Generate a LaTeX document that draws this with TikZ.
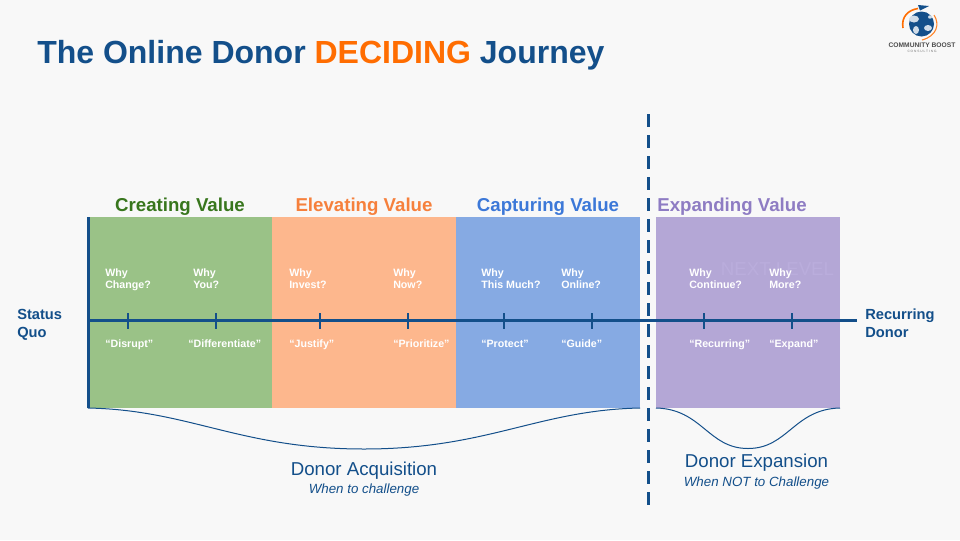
\documentclass[tikz,border=0pt]{standalone}
\usepackage{fontspec}
\setmainfont{Liberation Sans}
\definecolor{bgc}{HTML}{F8F8F8}
\definecolor{navyb}{HTML}{134F8A}
\definecolor{orangeT}{HTML}{FF6D01}
\definecolor{greenT}{HTML}{38761D}
\definecolor{orangeH}{HTML}{F6803C}
\definecolor{blueH}{HTML}{3C78D8}
\definecolor{purpleH}{HTML}{8E7CC3}
\definecolor{greenF}{HTML}{9AC287}
\definecolor{orangeF}{HTML}{FDB78D}
\definecolor{blueF}{HTML}{86AAE3}
\definecolor{purpleF}{HTML}{B4A7D6}
\definecolor{ghost}{HTML}{BAADDC}
\tikzset{
  x=0.75pt,y=-0.75pt,
  block/.style={anchor=north west,inner sep=0,outer sep=0,minimum width=#1*0.75pt,minimum height=191*0.75pt},
  head/.style={anchor=base,font=\fontsize{14}{16}\selectfont\bfseries,inner sep=0},
  why/.style={anchor=north west,align=left,text=white,font=\fontsize{8}{9.6}\selectfont\bfseries,inner sep=0},
  quote/.style={anchor=base west,text=white,font=\fontsize{8}{9}\selectfont\bfseries,inner sep=0},
  endlab/.style={anchor=north west,align=left,text=navyb,font=\fontsize{11}{13.5}\selectfont\bfseries,inner sep=0},
  biglab/.style={anchor=base,text=navyb,font=\fontsize{14}{16}\selectfont,inner sep=0},
  sublab/.style={anchor=base,text=navyb,font=\fontsize{10}{12}\selectfont\itshape,inner sep=0},
  tick/.style={draw=navyb,line width=1.5pt},
  brace/.style={draw=navyb,line width=0.75pt},
}
\begin{document}
\begin{tikzpicture}
\useasboundingbox (0,0) rectangle (960,540);
\fill[bgc] (0,0) rectangle (960,540);
% title
\node[anchor=base west,inner sep=0,text=navyb,font=\fontsize{24}{28}\selectfont\bfseries] (title) at (37,63) {The Online Donor \textcolor{orangeT}{DECIDING} Journey};
% blocks
\node[block=184,fill=greenF] (b1) at (88,217) {};
\node[block=184,fill=orangeF] (b2) at (272,217) {};
\node[block=184,fill=blueF] (b3) at (456,217) {};
\node[block=184,fill=purpleF] (b4) at (656,217) {};
% headers
\node[head,text=greenT] (h1) at (180,211) {Creating Value};
\node[head,text=orangeH] (h2) at (364,211) {Elevating Value};
\node[head,text=blueH] (h3) at (548,211) {Capturing Value};
\node[head,text=purpleH] (h4) at (732,211) {Expanding Value};
% faint text
\node[anchor=center,inner sep=0,text=ghost,font=\fontsize{14}{16}\selectfont] (ghosttext) at (777.5,269) {NEXT LEVEL};
% axes
\coordinate (axisL) at (88,320.5);
\coordinate (axisR) at (857,320.5);
\coordinate (vT) at (88.5,217);
\coordinate (vB) at (88.5,408);
\coordinate (dT) at (648.3,114);
\coordinate (dB) at (648.3,505);
\draw[navyb,line width=2.25pt,dash pattern=on 9.5pt off 6.25pt] (dT) -- (dB);
\draw[navyb,line width=2.25pt] (vT) -- (vB);
\draw[navyb,line width=2.25pt] (axisL) -- (axisR);
% ticks and labels
\foreach \n/\x/\qx/\qt in {
 a/128.2/105/{“Disrupt”},
 b/216.2/188/{“Differentiate”},
 c/320.2/289/{“Justify”},
 d/408.2/393/{“Prioritize”},
 e/504.2/481/{“Protect”},
 f/592.2/561/{“Guide”},
 g/704.2/689/{“Recurring”},
 h/792.2/769/{“Expand”}}{
  \coordinate (t\n) at (\x,313);
  \coordinate (u\n) at (\x,328.5);
  \draw[tick] (t\n) -- (u\n);
  \node[quote] (q\n) at (\qx,347) {\qt};
}
\node[why] (wa) at (105,268) {Why\\Change?};
\node[why] (wb) at (193,268) {Why\\You?};
\node[why] (wc) at (289,268) {Why\\Invest?};
\node[why] (wd) at (393,268) {Why\\Now?};
\node[why] (we) at (481,268) {Why\\This Much?};
\node[why] (wf) at (561,268) {Why\\Online?};
\node[why] (wg) at (689,268) {Why\\Continue?};
\node[why] (wh) at (769,268) {Why\\More?};
% end labels
\node[endlab] (sq) at (17,308.5) {Status\\Quo};
\node[endlab] (rd) at (865,308.5) {Recurring\\Donor};
% curves
\coordinate (c1L) at (88,408);
\coordinate (c1M) at (364,449);
\coordinate (c1R) at (640,408);
\coordinate (c2L) at (656,408);
\coordinate (c2M) at (748,448.5);
\coordinate (c2R) at (840,408);
\draw[brace] (c1L) .. controls (190,410) and (240,449) .. (c1M) .. controls (488,449) and (538,410) .. (c1R);
\draw[brace] (c2L) .. controls (702,409) and (708,448.5) .. (c2M) .. controls (788,448.5) and (794,409) .. (c2R);
\node[biglab] (acq) at (364,475) {Donor Acquisition};
\node[sublab] (acqs) at (364,493.5) {When to challenge};
\node[biglab] (exp) at (756.5,467) {Donor Expansion};
\node[sublab] (exps) at (756.5,486) {When NOT to Challenge};
% logo
\coordinate (globe) at (921.5,24);
\draw[orangeT,line width=1.2pt] (903,28) .. controls (901,17) and (908,10) .. (918,8.5);
\draw[orangeT!85,line width=0.8pt] (934,15) .. controls (940,24) and (937,36) .. (922,40);
\fill[navyb] (globe) circle (12.5);
\fill[white!80!navyb] (914,19) ellipse (5 and 3.5);
\fill[white!80!navyb] (916,30) ellipse (3 and 4);
\fill[white!80!navyb] (928,28) ellipse (4 and 3);
\fill[white!80!navyb] (930,17) ellipse (2 and 1.7);
\fill[navyb] (918,5) -- (929,6) -- (920,10.5) -- cycle;
\node[inner sep=0,text=black!70,font=\fontsize{5}{5}\selectfont\bfseries] (logo) at (922,45.5) {COMMUNITY BOOST};
\node[inner sep=0,text=black!55,font=\fontsize{2.4}{3}\selectfont] (logosub) at (922,51.5) {C O N S U L T I N G};
\end{tikzpicture}
\end{document}
